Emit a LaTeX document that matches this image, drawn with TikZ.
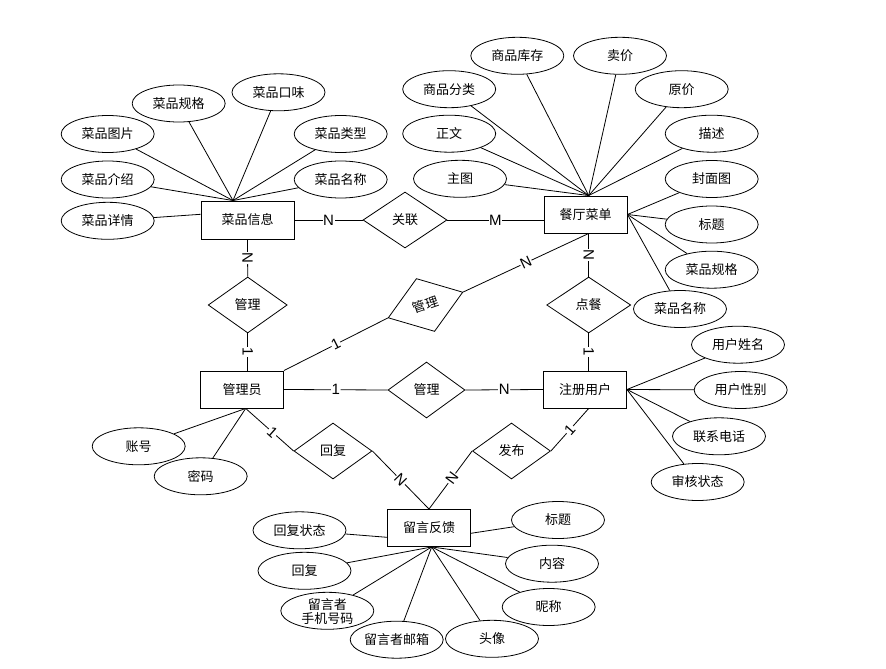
\documentclass[tikz,border=0pt]{standalone}
\usepackage{fontspec}
\setmainfont{Noto Sans CJK SC}
\newfontfamily\cardfont{Liberation Sans}
\usetikzlibrary{shapes.geometric}
\tikzset{
  txt/.style={font=\fontsize{13}{16}\selectfont},
  ent/.style={draw, line width=0.9pt, minimum width=83pt, minimum height=37pt, inner sep=0pt, txt},
  rel/.style={draw, diamond, line width=0.8pt, minimum width=80pt, minimum height=56pt, inner sep=0pt, txt},
  attr/.style={draw, ellipse, line width=0.8pt, minimum width=93pt, minimum height=37pt, inner sep=0pt, txt},
  lnk/.style={line width=0.8pt},
  card/.style={fill=white, inner sep=0.6pt, sloped, font=\cardfont\fontsize{15}{17}\selectfont}
}
\begin{document}
\begin{tikzpicture}[x=1pt,y=-1pt]
\fill[white] (0,0) rectangle (886,669);
\useasboundingbox (0,0) rectangle (886,669);

% entities
\node[ent, minimum width=93pt, minimum height=38pt] (cpxx) at (247.5,220) {菜品信息};
\node[ent] (ctcd) at (585.5,214.5) {餐厅菜单};
\node[ent] (gly) at (242,389.5) {管理员};
\node[ent] (zcyh) at (585,389.5) {注册用户};
\node[ent] (lyfk) at (429,528) {留言反馈};

% relationships
\node[rel, minimum width=84pt] (gl) at (405,220) {关联};
\node[rel, minimum width=79pt] (gl1) at (247.7,305) {管理};
\node[rel, minimum width=79pt, rotate=19] (gl2) at (425.5,305) {管理};
\node[rel, minimum width=84pt] (dc) at (588.7,305) {点餐};
\node[rel, minimum width=77pt] (gl3) at (426.5,390) {管理};
\node[rel, minimum width=78pt] (hf) at (333,451) {回复};
\node[rel, minimum width=78pt] (fb) at (511.5,451) {发布};

% helper coordinates
\coordinate (cpT) at ([xshift=-14.5pt]cpxx.north);
\coordinate (cpL) at ([yshift=5.7pt]cpxx.west);
\coordinate (ctT) at (ctcd.north -| dc.north);
\coordinate (ctB) at (ctcd.south -| dc.north);
\coordinate (glyB) at ([xshift=3.7pt]gly.south);
\coordinate (zcB) at (zcyh.south -| dc.south);
\coordinate (lyB) at ([xshift=2.7pt]lyfk.south);
\coordinate (lyL) at ([yshift=-9.3pt]lyfk.west);
\coordinate (lyR) at ([yshift=-5.3pt]lyfk.east);

% relationship connectors
\draw[lnk] (cpxx.east) -- node[card]{N} (gl.west);
\draw[lnk] (gl.east) -- node[card]{M} (ctcd.west |- gl.east);
\draw[lnk] (cpxx.south) -- node[card]{N} (gl1.north);
\draw[lnk] (gl1.south) -- node[card]{1} (gl1.south |- gly.north);
\draw[lnk] (gly.north east) -- node[card]{1} (gl2.west);
\draw[lnk] (gl2.east) -- node[card]{N} (ctB);
\draw[lnk] (ctB) -- node[card]{N} (dc.north);
\draw[lnk] (dc.south) -- node[card]{1} (dc.south |- zcyh.north);
\draw[lnk] (gly.east) -- node[card]{1} (gl3.west);
\draw[lnk] (gl3.east) -- node[card]{N} (zcyh.west);
\draw[lnk] (glyB) -- node[card, pos=0.56]{1} (hf.west);
\draw[lnk] (hf.east) -- node[card]{N} (lyfk.north);
\draw[lnk] (lyfk.north) -- node[card, pos=0.53]{N} (fb.west);
\draw[lnk] (fb.east) -- node[card]{1} (zcB);

% 菜品信息 attributes
\node[attr] (a1) at (107.7,134) {菜品图片};
\node[attr] (a2) at (178.7,103.5) {菜品规格};
\node[attr] (a3) at (278.5,92.3) {菜品口味};
\node[attr] (a4) at (340.7,134) {菜品类型};
\node[attr] (a5) at (340.7,179.5) {菜品名称};
\node[attr] (a6) at (107.7,179.5) {菜品介绍};
\node[attr] (a7) at (107.7,220.8) {菜品详情};
\foreach \n in {a1,a2,a3,a4,a5,a6} \draw[lnk] (\n) -- (cpT);
\draw[lnk] (a7) -- (cpL);

% 餐厅菜单 attributes
\node[attr] (b1) at (517.3,55.8) {商品库存};
\node[attr] (b2) at (620,55.8) {卖价};
\node[attr] (b3) at (449.2,89.2) {商品分类};
\node[attr] (b4) at (681.7,89.2) {原价};
\node[attr] (b5) at (449.2,133.7) {正文};
\node[attr] (b6) at (711.7,133.7) {描述};
\node[attr] (b7) at (460,178.8) {主图};
\node[attr] (b8) at (711.7,179) {封面图};
\node[attr] (b9) at (711.7,224.5) {标题};
\node[attr] (b10) at (711.7,269.7) {菜品规格};
\node[attr] (b11) at (680,309) {菜品名称};
\foreach \n in {b1,b2,b3,b4,b5,b6,b7} \draw[lnk] (\n) -- (ctT);
\foreach \n in {b8,b9,b10,b11} \draw[lnk] (\n) -- (ctcd.east);

% 注册用户 attributes
\node[attr] (c1) at (738,344.7) {用户姓名};
\node[attr] (c2) at (740.7,390) {用户性别};
\node[attr] (c3) at (719,436.3) {联系电话};
\node[attr] (c4) at (697.7,482) {审核状态};
\foreach \n in {c1,c2,c3,c4} \draw[lnk] (\n) -- (zcyh.east);

% 管理员 attributes
\node[attr] (d1) at (138.7,446.3) {账号};
\node[attr] (d2) at (200.7,476.3) {密码};
\foreach \n in {d1,d2} \draw[lnk] (\n) -- (glyB);

% 留言反馈 attributes
\node[attr] (e1) at (299.5,530.3) {回复状态};
\node[attr] (e2) at (558,520) {标题};
\node[attr] (e3) at (304.5,570.8) {回复};
\node[attr] (e4) at (552,563.7) {内容};
\node[attr] (e5) at (327.3,610.8) {};
\node[txt, align=center, inner sep=0pt] (e5t) at (327.3,612) {留言者\\[-2pt]手机号码};
\node[attr] (e6) at (548.7,607) {昵称};
\node[attr] (e7) at (396.7,639.7) {留言者邮箱};
\node[attr] (e8) at (492,638.8) {头像};
\draw[lnk] (e1) -- (lyL);
\draw[lnk] (e2) -- (lyR);
\foreach \n in {e3,e4,e5,e6,e7,e8} \draw[lnk] (\n) -- (lyB);
\end{tikzpicture}
\end{document}
